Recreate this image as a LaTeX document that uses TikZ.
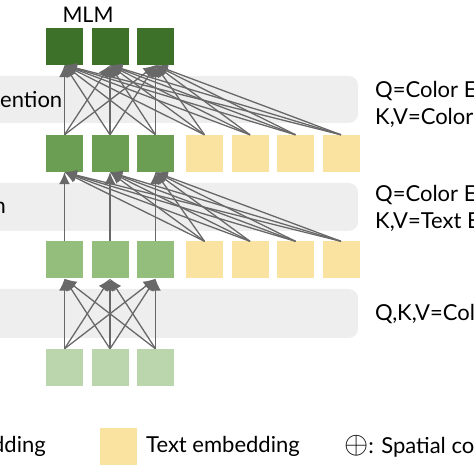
\documentclass[tikz,border=0pt]{standalone}
\usepackage{fontspec}
\setmainfont{Lato}
\usepackage{tikz}
\usetikzlibrary{arrows.meta}

\definecolor{mlmgreen}{HTML}{3D7028}
\definecolor{outgreen}{HTML}{6B9E52}
\definecolor{midgreen}{HTML}{93BE7C}
\definecolor{ingreen}{HTML}{BBD6AC}
\definecolor{textyellow}{HTML}{FAE2A0}
\definecolor{bandgray}{HTML}{EEEEEE}
\definecolor{linkgray}{HTML}{686868}

\begin{document}
\begin{tikzpicture}[x=1pt,y=1pt,
		box/.style={minimum size=37pt,inner sep=0pt},
		band/.style={fill=bandgray,rounded corners=9pt},
		link/.style={draw=linkgray,line width=1.3pt,-{Latex[length=12pt,width=11pt]}},
		lbl/.style={font=\fontsize{22}{27}\selectfont,inner sep=0pt,align=left}]
			\useasboundingbox (0,0) rectangle (474,474);
			% attention bands
			\fill[band] (-60,398) rectangle (358,351);
			\fill[band] (-60,291) rectangle (358,243);
			\fill[band] (-60,185) rectangle (358,136);
			% boxes
			\foreach \i in {1,2,3} {
				\pgfmathsetmacro{\xx}{64.5+(\i-1)*45.5}
				\node[box,fill=mlmgreen] (M\i) at (\xx,427.5) {};
				\node[box,fill=outgreen] (C\i) at (\xx,320.5) {};
				\node[box,fill=midgreen] (D\i) at (\xx,214) {};
				\node[box,fill=ingreen] (E\i) at (\xx,106.5) {};
			}
			\foreach \j in {1,...,4} {
				\pgfmathsetmacro{\xx}{204.5+(\j-1)*45.5}
				\node[box,fill=textyellow] (T\j) at (\xx,320.5) {};
				\node[box,fill=textyellow] (S\j) at (\xx,214) {};
			}
			% top layer
			\foreach \i in {1,2,3} {
				\foreach \k in {1,2,3}
					\draw[link] (C\k.north) -- (M\i.south);
				\foreach \j in {1,...,4}
					\draw[link] (T\j.north) -- (M\i.south);
			}
			% middle layer
			\foreach \i in {1,2,3} {
				\draw[link] (D\i.north) -- (C\i.south);
				\foreach \j in {1,...,4}
					\draw[link] (S\j.north) -- (C\i.south);
			}
			% bottom layer
			\foreach \i in {1,2,3} {
				\foreach \k in {1,2,3}
					\draw[link] (E\k.north) -- (D\i.south);
			}
			% labels
			\node[lbl,font=\fontsize{21.5}{24}\selectfont] (mlm) at (88,459) {MLM};
			\node[lbl,anchor=west] (top) at (0,374) {ention};
			\node[lbl,anchor=east] (mid) at (6,266) {n};
			\node[lbl,anchor=west] (topqkv) at (375,370) {Q=Color E\\K,V=Color};
			\node[lbl,anchor=west] (midqkv) at (375,265.5) {Q=Color E\\K,V=Text E};
			\node[lbl,anchor=west] (lowqkv) at (375,160) {Q,K,V=Col};
			% legend
			\node[lbl,anchor=east] (leg1) at (46,28) {dding};
			\node[box,fill=textyellow] (leg2box) at (118,27.5) {};
			\node[lbl,anchor=west] (leg2) at (146,28) {Text embedding};
			\node[lbl,anchor=west] (leg3) at (344,28) {\scalebox{1.5}{$\oplus$}: Spatial co};
		\end{tikzpicture}
\end{document}
